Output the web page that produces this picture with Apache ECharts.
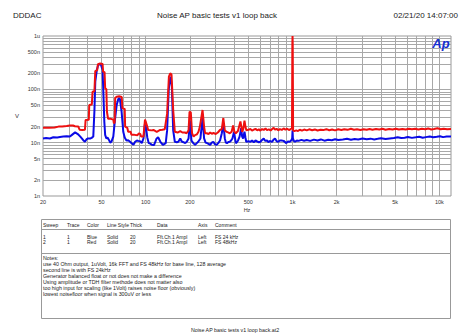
<!DOCTYPE html>
<html>
<head>
<meta charset="utf-8">
<script src="https://cdn.jsdelivr.net/npm/echarts@6/dist/echarts.min.js"></script>
<style>
html,body{margin:0;padding:0;background:#fff;}
#chart{width:474px;height:335px;}
</style>
</head>
<body>
<div id="chart"></div>
<script>
// ---- data (Hz, nV) ----
const blueSweep = [[20,12],[21,12.2],[22.3,12],[23.5,12.6],[25,12.5],[26.1,12.8],[27.5,13],[29,13.2],[30.5,13],[31.5,14],[33.1,15.6],[34.5,14.5],[35.9,13],[37,11.8],[37.6,11.1],[38.6,10.4],[39.5,11.5],[40.5,12],[41.9,12],[42.9,12.3],[44,13],[44.8,40],[45.4,139],[46.5,230],[47.6,290],[48.5,295],[49.6,290],[50.9,230],[51.6,78],[52.3,25],[53,14],[54,12],[55,12.5],[56,11.5],[57.4,10],[58.5,10.5],[60.2,13],[61.9,28],[63.5,51],[65.1,66],[66,68],[66.8,66],[68.6,38],[70.4,16],[72,12.5],[74,11],[76,11.1],[78,10.5],[80.2,9.8],[82.6,9.1],[84.8,10.4],[87.2,11],[89,10.8],[91.5,10.6],[94.1,9.8],[96.7,12],[99.3,25],[102.6,12.5],[105,9.8],[107.5,9.6],[110,9.1],[114,9],[118.8,12],[121.6,12.6],[126,10.4],[131,9.1],[137,9.8],[140,17],[143.5,97],[146,150],[148,173],[150.8,112],[154,17],[158,10.4],[163,10.2],[167,10.4],[172,12],[176,10.5],[181,10.2],[186,9.8],[191,10.5],[196,12],[200.5,26],[205,11],[211,9.8],[217,9.1],[223,9.8],[228,10.4],[236,12],[244,29],[250,12],[256,10],[262,9.8],[268,9.5],[275,9.1],[282,10],[289,10.4],[296,9.4],[304,9.1],[312,9.8],[321,11],[330,15],[338,23],[346,12],[352,10],[358,9.8],[366,10.3],[374,10.4],[382,11],[390,12],[400,16],[411,9.8],[418,10.2],[426,11],[436,13],[447,18.6],[454,13],[461,12],[471,16],[478,12.5],[484,10.4],[500,10.6],[518,10.4],[530,11],[545,10.2],[560,11],[575,10.5],[590,10.2],[604,10.4],[620,11.2],[637,12],[650,10.8],[670,11],[685,10.2],[700,10.8],[715,10.5],[727,10.4],[745,11.5],[760,12],[780,10.6],[799,10.4],[820,11],[840,11],[870,10.8],[907,9.8],[930,10.5],[957,10.4],[980,11],[994.7,12],[1000.5,17],[1006.3,12],[1020,10.8],[1040,10.4],[1070,11],[1100,10.8],[1150,11.3],[1200,10.9],[1250,11.2],[1320,10.8],[1400,11.4],[1480,11],[1560,11.5],[1650,10.9],[1750,11.3],[1850,11.1],[1950,11.6],[2050,11.2],[2200,11.5],[2350,11.8],[2500,11.3],[2650,11.7],[2800,11.5],[3000,12],[3200,11.6],[3400,11.9],[3600,11.5],[3800,11.8],[4000,12.1],[4300,11.7],[4600,12],[4900,12.2],[5200,12.6],[5500,12.2],[5800,12.4],[6100,12.8],[6500,12.3],[6900,12.6],[7300,12.9],[7700,12.4],[8100,12.7],[8600,13],[9100,12.6],[9600,12.9],[10100,13.2],[10600,12.7],[11200,13],[11700,13.1],[12000,13]];

const redSweep = [[20,19],[22,19],[24,19.3],[25.5,20],[27,20],[29,20.5],[30.5,21],[32,21],[33,20.3],[34.8,20],[35.5,17.5],[37,17.3],[38.6,17.5],[39,26.5],[41,27],[41.3,51],[43,52],[43.5,90],[44.8,92],[45.4,220],[46.8,230],[47.3,295],[49,305],[50.9,300],[51.3,214],[52.5,210],[53,105],[54,100],[54.5,38],[55.5,28],[58,28],[60.2,27],[60.8,23],[61.5,24],[62,68],[63.5,73],[66,74],[68.7,72],[69.5,44],[72,43],[72.5,20],[75,19],[76,16],[79,16],[80,14],[84,14],[88,13.8],[90,15],[92,14.5],[93,13],[96.6,13],[99,27],[102.6,20],[104,17.3],[110,17],[113,17.3],[119,16],[125.5,17.3],[130,17.5],[135,17.9],[140,35],[144,173],[147,200],[150,190],[154,41],[158,16],[165,15.5],[172,16.5],[178,15.5],[185,15.5],[190,15],[196,17],[199,38],[203,37],[207,15],[212,13],[218,14],[223,14.2],[229,16],[234,20],[244,41],[250,20],[254,15],[261,15],[268,14.5],[275,15.5],[282,14.7],[290,15.2],[300,14.5],[310,15.5],[321,17.3],[330,18],[338,29],[346,17],[355,16],[364,15.6],[374,15],[385,16],[394,21],[402,16],[411,15],[425,16.5],[442,25],[454,16],[462,18],[471,26],[478,20],[485,17],[500,17.5],[518,18],[530,16.8],[545,17.5],[560,18.2],[575,17],[590,17.8],[604,16.8],[620,18],[637,17.3],[655,18.5],[670,17.2],[690,17.8],[710,16.9],[727,18],[744,19],[760,17.5],[780,18.2],[800,17],[820,18],[845,17.3],[870,18.5],[895,17.5],[920,18.3],[945,17.2],[970,18],[991.8,18.5],[997.6,700],[1000.5,1000],[1003.4,700],[1009.2,17],[1030,16.5],[1060,17],[1090,16.5],[1120,17.5],[1160,16.8],[1200,17.6],[1250,17],[1300,17.8],[1360,17.1],[1420,17.7],[1480,16.9],[1550,17.5],[1620,17.2],[1700,17.9],[1780,17.1],[1860,17.6],[1950,17],[2050,17.8],[2150,17.3],[2250,17.9],[2370,17.4],[2500,18.2],[2620,17.5],[2750,17.9],[2900,17.3],[3050,17.8],[3200,17.4],[3350,18],[3500,17.5],[3700,18.1],[3900,17.6],[4100,18.2],[4300,17.5],[4550,18],[4800,17.6],[5050,18.3],[5300,17.7],[5600,18.1],[5900,17.6],[6200,18.2],[6500,17.8],[6850,18.3],[7200,17.7],[7600,18.2],[8000,17.8],[8400,18.5],[8800,17.7],[9200,18.1],[9700,18.6],[10200,17.8],[10700,18.3],[11300,17.9],[12000,18]];

const xTickHz = [20,50,100,200,500,1000,2000,5000,10000];
const xTickLabels = ['20','50','100','200','500','1k','2k','5k','10k'];
const yTickNv = [1000,500,200,100,50,20,10,5,2,1];
const yTickLabels = ['1u','500n','200n','100n','50n','20n','10n','5n','2n','1n'];
const xGridHz = [30,40,50,60,70,80,90,100,200,300,400,500,600,700,800,900,1000,2000,3000,4000,5000,6000,7000,8000,9000,10000];
const yGridNv = [2,3,4,5,6,7,8,9,10,20,30,40,50,60,70,80,90,100,200,300,400,500,600,700,800,900];

const tableHeader = ['Sweep','Trace','Color','Line Style','Thick','Data','Axis','Comment'];
const tableRows = [
  ['1','1','Blue','Solid','20','Fft.Ch.1 Ampl','Left','FS 24 kHz'],
  ['2','1','Red','Solid','20','Fft.Ch.1 Ampl','Left','FS 48kHz']
];
const notesLines = [
  'Notes:',
  'use 40 Ohm output, 1uVolt, 16k FFT and FS 48kHz for base line, 128 average',
  'second line is with FS 24kHz',
  'Generator balanced float or not does not make a difference',
  'Using amplitude or TDH filter methode does not matter also',
  'too high input for scaling (like 1Volt) raises noise floor (obviously)',
  'lowest noisefloor when signal is 300uV or less'
];

// ---- layout ----
const FONT = 'Liberation Sans, Arial, sans-serif';
const colX = [43,67,87,107,130,157,198,215];
const graphics = [];
function txt(x, y, s, size, opts) {
  opts = opts || {};
  graphics.push({type:'text', x:x, y:y, z:opts.z||1, silent:true, style:{text:s, fontSize:size, fontFamily:opts.family||FONT, fill:opts.fill||'#222', align:opts.align||'left', verticalAlign:'middle', fontWeight:opts.weight||'normal', fontStyle:opts.style||'normal'}});
}
txt(13, 15, 'DDDAC', 8);
txt(217, 15, 'Noise AP basic tests v1 loop back', 8, {align:'center'});
txt(458, 15, '02/21/20 14:07:00', 8, {align:'right'});
txt(441, 43, 'Ap', 13, {fill:'#1530d0', weight:'bold', style:'italic', align:'center', family:'Liberation Sans, Arial, sans-serif', z:20});
graphics.push({type:'rect', shape:{x:41.5,y:219.5,width:409,height:34}, style:{fill:'none', stroke:'#999', lineWidth:1}, silent:true});
graphics.push({type:'line', shape:{x1:41.5,y1:229.5,x2:450.5,y2:229.5}, style:{stroke:'#999', lineWidth:1}, silent:true});
graphics.push({type:'rect', shape:{x:41.5,y:253.5,width:409,height:65}, style:{fill:'none', stroke:'#999', lineWidth:1}, silent:true});
tableHeader.forEach((h,i)=>txt(colX[i], 224.5, h, 5));
tableRows.forEach((r,j)=>r.forEach((c,i)=>txt(colX[i], 236.5 + j*5.3, c, 5)));
notesLines.forEach((l,i)=>txt(43, 258 + i*6, l, 5.3));
txt(235, 330, 'Noise AP basic tests v1 loop back.at2', 5.3, {align:'center'});

const gridLines = xGridHz.map(v=>({xAxis:v})).concat(yGridNv.map(v=>({yAxis:v})));

const chart = echarts.init(document.getElementById('chart'), null, {renderer:'svg'});
chart.setOption({
  animation:false,
  backgroundColor:'#fff',
  textStyle:{fontFamily:FONT},
  graphic: graphics,
  grid:{left:43, top:36, width:408, height:160, show:true, borderColor:'#999', borderWidth:1, backgroundColor:'transparent'},
  xAxis:{type:'log', logBase:10, min:20, max:12000,
    name:'Hz', nameLocation:'middle', nameGap:11, nameTextStyle:{fontSize:5.5, color:'#333'},
    axisLine:{show:false}, axisTick:{show:false}, splitLine:{show:false}, minorSplitLine:{show:false},
    axisLabel:{customValues:xTickHz, fontSize:5.5, color:'#333', margin:3,
      formatter:(v)=>{const i=xTickHz.findIndex(t=>Math.abs(t-v)/t<1e-6); return i>=0?xTickLabels[i]:'';}}},
  yAxis:{type:'log', logBase:10, min:1, max:1000,
    name:'V', nameLocation:'middle', nameGap:24, nameRotate:0, nameTextStyle:{fontSize:6, color:'#333'},
    axisLine:{show:false}, axisTick:{show:false}, splitLine:{show:false},
    axisLabel:{customValues:yTickNv, fontSize:5.5, color:'#333', margin:3,
      formatter:(v)=>{const i=yTickNv.findIndex(t=>Math.abs(t-v)/t<1e-6); return i>=0?yTickLabels[i]:'';}}},
  series:[
    {type:'line', data:[], z:1, silent:true,
      markLine:{z:1, silent:true, symbol:['none','none'], label:{show:false}, animation:false,
        lineStyle:{color:'#a8a8a8', width:1, type:'solid'}, emphasis:{disabled:true}, data:gridLines}},
    {name:'Sweep 1', type:'line', data:blueSweep, showSymbol:false, symbol:'none', z:10,
      lineStyle:{color:'#0a0ae6', width:2}, itemStyle:{color:'#0a0ae6'}},
    {name:'Sweep 2', type:'line', data:redSweep, showSymbol:false, symbol:'none', z:11,
      lineStyle:{color:'#ee1010', width:2}, itemStyle:{color:'#ee1010'}}
  ]
});
</script>
</body>
</html>
